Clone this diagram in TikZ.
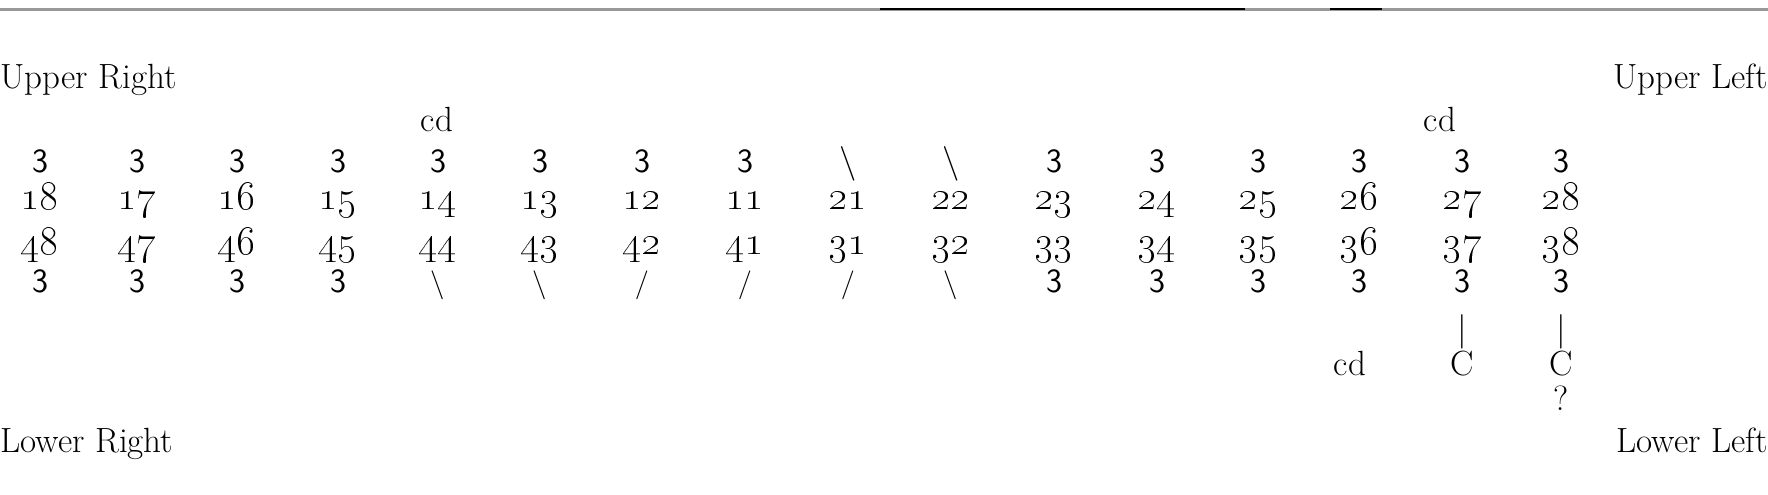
\documentclass[tikz,border=0pt]{standalone}
\newcommand\mybs{$\backslash$}
\newcommand\myfs{$/$}
\begin{document}
\begin{tikzpicture}[x=0.5pt,y=-0.5pt,
  lab/.style={font=\fontsize{17.5}{19}\selectfont, inner sep=0, anchor=base},
  num/.style={font=\fontsize{20.5}{22}\selectfont, inner sep=0, anchor=base},
  tri/.style={font=\fontsize{17}{18}\selectfont\sffamily, inner sep=0, anchor=base},
  sla/.style={font=\fontsize{15}{16}\selectfont, inner sep=0, anchor=base}]
\useasboundingbox (0,0) rectangle (1768,494);
\draw[gray!80, line width=1.5pt] (0,9) -- (1768,9);
\draw[black, line width=1pt] (880,9) -- (1245,9);
\draw[black, line width=1pt] (1330,9) -- (1382,9);
\node[lab, anchor=base west] (ur) at (0,88) {Upper Right};
\node[lab, anchor=base east] (ul) at (1768,88) {Upper Left};
\node[lab] (cdA) at (437,131) {cd};
\node[lab] (cdB) at (1440,131) {cd};
\foreach \x/\a/\b/\t/\u/\s [count=\i] in {
  40/18/48/3/3/tri, 137/17/47/3/3/tri, 237/16/46/3/3/tri, 338/15/45/3/3/tri,
  438/14/44/3/\mybs/sla, 540/13/43/3/\mybs/sla, 642/12/42/3/\myfs/sla, 745/11/41/3/\myfs/sla,
  848/21/31/\mybs/\myfs/sla, 951/22/32/\mybs/\mybs/sla, 1054/23/33/3/3/tri, 1157/24/34/3/3/tri,
  1258/25/35/3/3/tri, 1359/26/36/3/3/tri, 1462/27/37/3/3/tri, 1561/28/38/3/3/tri}
{
  \node[tri] (t\i) at (\x,172) {\t};
  \node[num] (a\i) at (\x,209) {\oldstylenums{\a}};
  \node[num] (b\i) at (\x,254) {\oldstylenums{\b}};
  \node[\s] (u\i) at (\x,292) {\u};
}
\node[lab] (v15) at (1462,340) {$|$};
\node[lab] (v16) at (1561,340) {$|$};
\node[lab] (cdC) at (1350,375) {cd};
\node[lab] (c15) at (1462,375) {C};
\node[lab] (c16) at (1561,375) {C};
\node[lab] (q16) at (1561,410) {?};
\node[lab, anchor=base west] (lr) at (0,452) {Lower Right};
\node[lab, anchor=base east] (ll) at (1768,452) {Lower Left};
\end{tikzpicture}
\end{document}
